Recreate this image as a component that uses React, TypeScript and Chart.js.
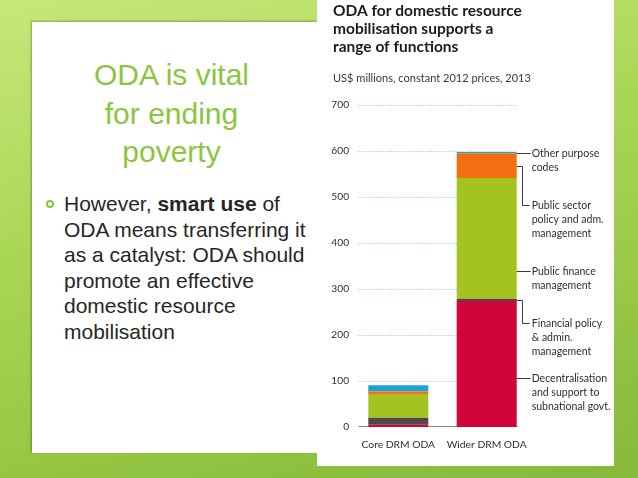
import React, { useEffect, useRef } from 'react';
import { Chart, registerables } from 'chart.js';

Chart.register(...registerables);

// ---------- data ----------
const categories = ['Core DRM ODA', 'Wider DRM ODA'];
const seriesNames = [
  'Decentralisation and support to subnational govt.',
  'Financial policy & admin. management',
  'Public finance management',
  'Public sector policy and adm. management',
  'Other purpose codes',
];
const decentralisation = [5, 274];
const financialPolicy = [15, 5];
const publicFinance = [50, 262];
const publicSector = [7, 54];
const otherPurpose = [14, 3];
const yTickValues = [0, 100, 200, 300, 400, 500, 600, 700];

const titleLines = ['ODA for domestic resource', 'mobilisation supports a', 'range of functions'];
const subtitleText = 'US$ millions, constant 2012 prices, 2013';

const annotationLabels = [
  ['Decentralisation', 'and support to', 'subnational govt.'],
  ['Financial policy', '& admin.', 'management'],
  ['Public finance', 'management'],
  ['Public sector', 'policy and adm.', 'management'],
  ['Other purpose', 'codes'],
];

// ---------- styling / layout (not data) ----------
const seriesColors = ['#d1053b', '#4d4946', '#a3c41e', '#f36f12', '#1ba3d8'];
const annotationLayout = { anchorValues: [107, 226, 339, 483, 596] };
const FONT = 'Lato, "Open Sans", sans-serif';

const guidesPlugin = {
  id: 'guides',
  afterLayout(chart: any) {
    // let the y tick labels extend left of the axis box without being clipped
    chart.scales.y.left = 0;
  },
  beforeDatasetsDraw(chart: any) {
    const { ctx } = chart;
    const y = chart.scales.y;
    const meta = chart.getDatasetMeta(0);
    const first = meta.data[0].getProps(['x', 'width'], true);
    const last = meta.data[meta.data.length - 1].getProps(['x', 'width'], true);
    const x0 = first.x - first.width / 2 - 10;
    const x1 = last.x + last.width / 2;
    ctx.save();
    ctx.lineWidth = 1;
    ctx.strokeStyle = '#8ccbe0';
    ctx.setLineDash([1, 1.5]);
    yTickValues.forEach((v) => {
      if (v === 0) return;
      const py = Math.round(y.getPixelForValue(v)) + 0.5;
      ctx.beginPath();
      ctx.moveTo(x0, py);
      ctx.lineTo(x1, py);
      ctx.stroke();
    });
    ctx.setLineDash([]);
    ctx.strokeStyle = '#8a8a8a';
    const p0 = Math.round(y.getPixelForValue(0)) - 0.5;
    ctx.beginPath();
    ctx.moveTo(x0, p0);
    ctx.lineTo(x1 + 1, p0);
    ctx.stroke();
    ctx.restore();
  },
  afterDatasetsDraw(chart: any, _args: any, opts: any) {
    const { ctx } = chart;
    const y = chart.scales.y;
    const idx = categories.length - 1;
    ctx.save();
    ctx.strokeStyle = '#3a3a3a';
    ctx.lineWidth = 1;
    ctx.fillStyle = '#2e2e2e';
    ctx.font = `10.5px ${FONT}`;
    ctx.textBaseline = 'middle';
    ctx.textAlign = 'left';
    chart.data.datasets.forEach((_ds: any, i: number) => {
      const el = chart.getDatasetMeta(i).data[idx];
      const p = el.getProps(['x', 'y', 'base', 'width'], true);
      const right = p.x + p.width / 2;
      const segTop = Math.min(p.y, p.base);
      const segBot = Math.max(p.y, p.base);
      const labelY = Math.round(y.getPixelForValue(opts.anchorValues[i])) + 0.5;
      ctx.beginPath();
      if (labelY >= segTop - 1.5 && labelY <= segBot + 1.5) {
        ctx.moveTo(right, labelY);
        ctx.lineTo(right + 14, labelY);
      } else {
        const mid = Math.round((segTop + segBot) / 2) + 0.5;
        const bx = Math.round(right + 5) + 0.5;
        ctx.moveTo(right, mid);
        ctx.lineTo(bx, mid);
        ctx.lineTo(bx, labelY);
        ctx.lineTo(right + 13, labelY);
      }
      ctx.stroke();
      annotationLabels[i].forEach((line, k) => {
        ctx.fillText(line, right + 15, labelY + k * 14.3);
      });
    });
    ctx.restore();
  },
};

function BarChart() {
  const ref = useRef<HTMLCanvasElement | null>(null);
  useEffect(() => {
    if (!ref.current) return;
    const series = [decentralisation, financialPolicy, publicFinance, publicSector, otherPurpose];
    const chart = new Chart(ref.current, {
      type: 'bar',
      data: {
        labels: categories,
        datasets: series.map((vals, i) => ({
          label: seriesNames[i],
          data: vals,
          backgroundColor: seriesColors[i],
          borderWidth: 0,
          categoryPercentage: 1,
          barPercentage: 0.679,
        })),
      },
      options: {
        responsive: false,
        animation: false,
        events: [],
        layout: { padding: { left: 16, right: 83.1, top: 0, bottom: 0 } },
        plugins: {
          legend: { display: false },
          tooltip: { enabled: false },
          title: {
            display: true,
            text: titleLines,
            align: 'start',
            color: '#1f1b1c',
            font: { family: FONT, size: 15.5, weight: 'bold', lineHeight: 1.15 },
            padding: { top: 2, bottom: 0 },
          },
          subtitle: {
            display: true,
            text: subtitleText,
            align: 'start',
            color: '#383838',
            font: { family: FONT, size: 12, lineHeight: 1.2 },
            padding: { top: 15.3, bottom: 19.8 },
          },
          guides: annotationLayout,
        } as any,
        scales: {
          x: {
            stacked: true,
            grid: { display: false, drawTicks: false },
            border: { display: false },
            ticks: { color: '#2e2e2e', font: { family: FONT, size: 10.3 }, padding: 11 },
            afterFit: (s: any) => { s.height = 39; },
          },
          y: {
            stacked: true,
            min: 0,
            max: 700,
            grid: { display: false, drawTicks: false },
            border: { display: false },
            ticks: {
              stepSize: 100,
              color: '#2e2e2e',
              font: { family: FONT, size: 10.2 },
              padding: 5,
            },
            afterBuildTicks: (s: any) => { s.ticks = yTickValues.map((v) => ({ value: v })); },
            afterFit: (s: any) => { s.width = 21.1; },
          },
        },
      },
      plugins: [guidesPlugin],
    } as any);
    return () => chart.destroy();
  }, []);
  return <canvas ref={ref} width={297} height={466} style={{ display: 'block' }} />;
}

export default function App() {
  return (
    <div
      style={{
        position: 'absolute',
        left: 0,
        top: 0,
        width: 638,
        height: 478,
        overflow: 'hidden',
        background: 'linear-gradient(165deg, #c6e87a 0%, #aad655 40%, #94c644 75%, #86b83b 100%)',
        fontFamily: '"Liberation Sans", Arial, sans-serif',
      }}
    >
      <div
        style={{
          position: 'absolute',
          left: 32,
          top: 22,
          width: 286,
          height: 431,
          background: '#fff',
          boxShadow: '-1px -1px 2px rgba(0,0,0,0.3)',
        }}
      >
        <div
          style={{
            position: 'absolute',
            left: 0,
            top: 34,
            width: 279,
            textAlign: 'center',
            color: '#8cc540',
            fontSize: 30,
            lineHeight: '38.5px',
            whiteSpace: 'nowrap',
          }}
        >
          ODA is vital
          <br />
          for ending
          <br />
          poverty
        </div>
        <div
          style={{
            position: 'absolute',
            left: 13.5,
            top: 177.5,
            width: 4,
            height: 4,
            borderRadius: '50%',
            border: '2.5px solid #8cc540',
          }}
        />
        <div
          style={{
            position: 'absolute',
            left: 32,
            top: 169,
            color: '#262626',
            fontSize: 21,
            lineHeight: '25.5px',
            whiteSpace: 'nowrap',
          }}
        >
          However, <b>smart use</b> of
          <br />
          ODA means transferring it
          <br />
          as a catalyst: ODA should
          <br />
          promote an effective
          <br />
          domestic resource
          <br />
          mobilisation
        </div>
      </div>
      <div
        style={{
          position: 'absolute',
          left: 317,
          top: 0,
          width: 297,
          height: 466,
          background: '#fff',
        }}
      >
        <BarChart />
      </div>
    </div>
  );
}
